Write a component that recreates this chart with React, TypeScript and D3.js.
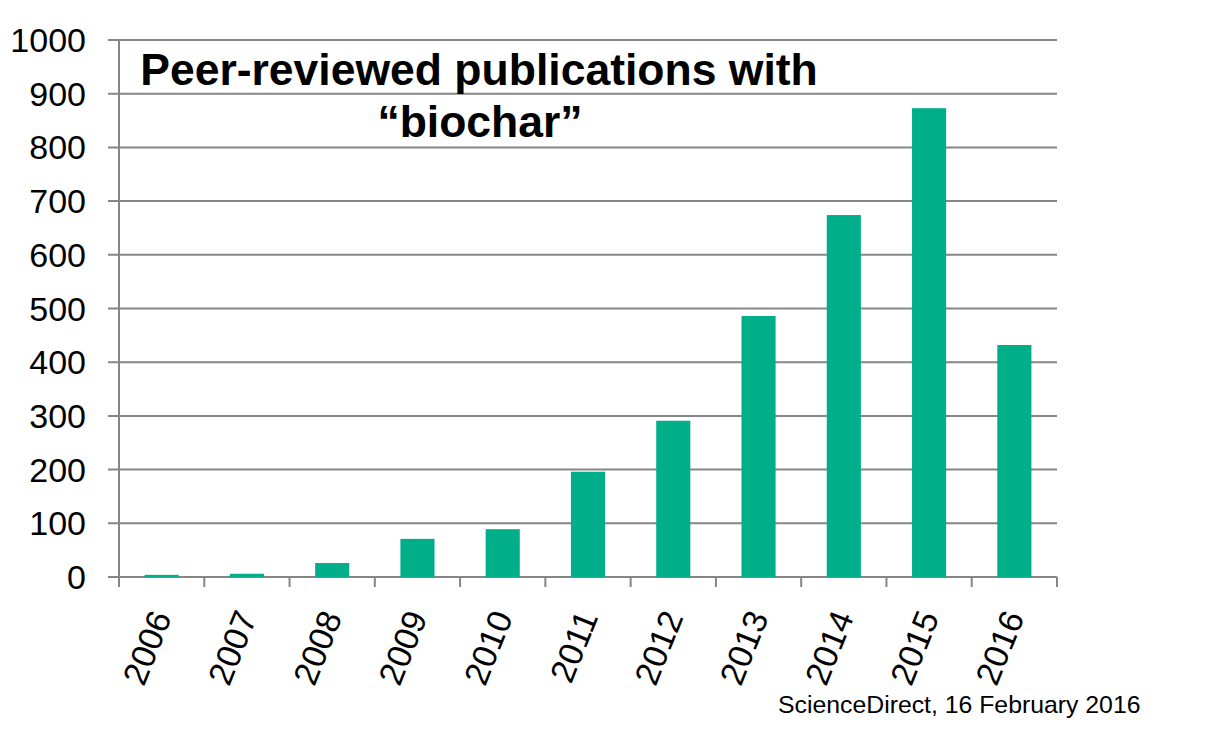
import React from "react";
import * as d3 from "d3";

const years = ["2006", "2007", "2008", "2009", "2010", "2011", "2012", "2013", "2014", "2015", "2016"];
const publications = [4, 6, 26, 71, 89, 196, 291, 486, 674, 873, 432];
const yTicks = [0, 100, 200, 300, 400, 500, 600, 700, 800, 900, 1000];
const titleLines = ["Peer-reviewed publications with", "\u201Cbiochar\u201D"];
const footnote = "ScienceDirect, 16 February 2016";

const W = 1226;
const H = 737;
const left = 119;
const right = 1057;
const top = 40;
const bottom = 577;
const gridColor = "#868686";
const barColor = "#00AE8A";
const font = "'Liberation Sans', Arial, sans-serif";

export default function App() {
  const x = d3.scaleBand<string>().domain(years).range([left, right]).paddingInner(0.6).paddingOuter(0.3);
  const y = d3.scaleLinear().domain([0, 1000]).range([bottom, top]);
  const step = x.step();
  const boundaries = d3.range(years.length + 1).map((i) => left + i * step);

  return (
    <svg width={W} height={H} style={{ position: "absolute", left: 0, top: 0, background: "#fff" }}>
      <rect x={0} y={0} width={W} height={H} fill="#fff" />
      {yTicks.map((t) => (
        <g key={t}>
          <line x1={108} x2={right} y1={y(t)} y2={y(t)} stroke={gridColor} strokeWidth={2} />
          <text x={86} y={y(t) + 12} textAnchor="end" fontFamily={font} fontSize={34} fill="#000">
            {t}
          </text>
        </g>
      ))}
      {years.map((yr, i) => (
        <rect
          key={yr}
          x={x(yr)}
          y={y(publications[i])}
          width={x.bandwidth()}
          height={bottom - y(publications[i])}
          fill={barColor}
        />
      ))}
      <line x1={left} x2={left} y1={top} y2={bottom + 10} stroke={gridColor} strokeWidth={2} />
      {boundaries.map((bx, i) => (
        <line key={i} x1={bx} x2={bx} y1={bottom} y2={bottom + 10} stroke={gridColor} strokeWidth={2} />
      ))}
      {years.map((yr) => {
        const cx = (x(yr) as number) + x.bandwidth() / 2 + 10.5;
        const cy = bottom + 40;
        return (
          <text
            key={yr}
            x={cx}
            y={cy}
            transform={`rotate(-68, ${cx}, ${cy})`}
            textAnchor="end"
            fontFamily={font}
            fontSize={34}
            fill="#000"
          >
            {yr}
          </text>
        );
      })}
      <text x={479} y={85} textAnchor="middle" fontFamily={font} fontWeight="bold" fontSize={44.5} fill="#000">
        {titleLines[0]}
      </text>
      <text x={480} y={137} textAnchor="middle" fontFamily={font} fontWeight="bold" fontSize={44.5} fill="#000">
        {titleLines[1]}
      </text>
      <text x={778} y={713} fontFamily={font} fontSize={24.8} fill="#000">
        {footnote}
      </text>
    </svg>
  );
}
